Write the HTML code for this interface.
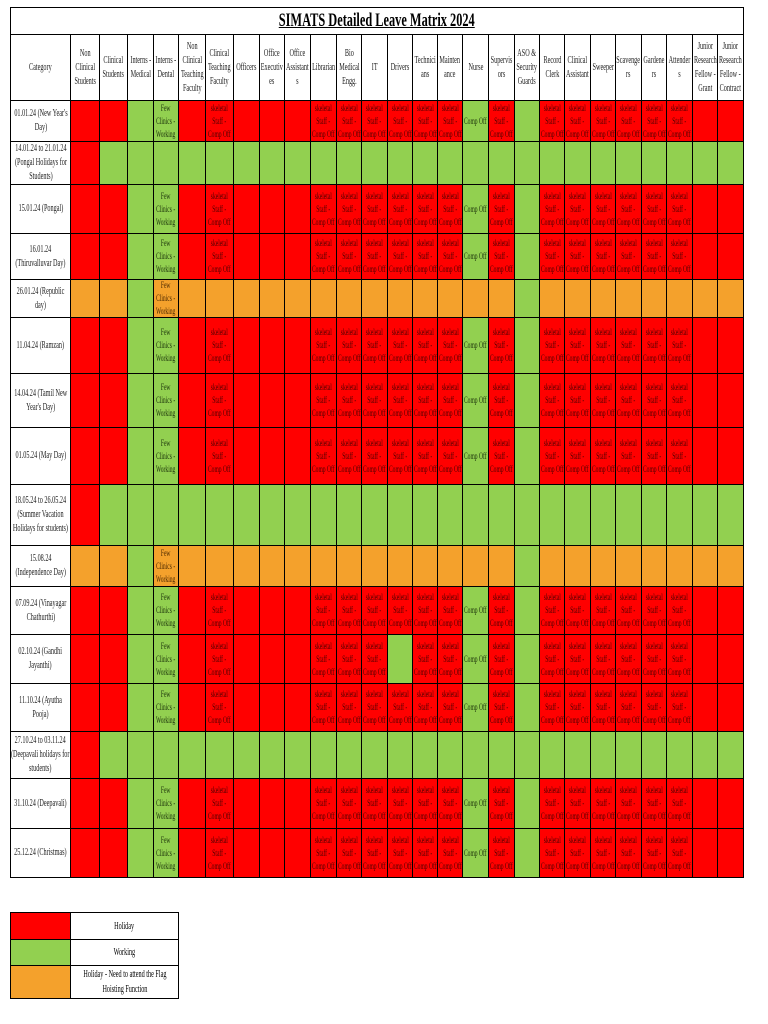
<!DOCTYPE html>
<html><head><meta charset="utf-8">
<style>
html,body{margin:0;padding:0;background:#fff;width:768px;height:1024px;overflow:hidden;font-family:"Liberation Serif",serif;}
#root{position:relative;width:768px;height:1024px;}
.c{position:absolute;box-sizing:border-box;border:1px solid #000;display:flex;align-items:center;justify-content:center;text-align:center;overflow:visible;}
.t{display:inline-block;transform:scaleX(0.62);white-space:nowrap;font-size:9px;line-height:13px;}
.r{background:#ff0000;color:#4a0000;}
.g{background:#92d050;color:#1a300a;}
.o{background:#f4a12c;color:#4a2800;}
.w{background:#fff;color:#222;}
</style></head><body>
<div id="root"></div>
<script>
const colEdges=[10,70,99,127,153,178,205,233,259,284,310,336,361,387,412,437,462,488,514,539,564,590,615,641,666,692,717,743];
const rowEdges=[100,141,184,233,279,317,373,427,484,545,586,634,683,731,778,828,877];
const headers=["Category","Non<br>Clinical<br>Students","Clinical<br>Students","Interns -<br>Medical","Interns -<br>Dental","Non<br>Clinical<br>Teaching<br>Faculty","Clinical<br>Teaching<br>Faculty","Officers","Office<br>Executiv<br>es","Office<br>Assistant<br>s","Librarian","Bio<br>Medical<br>Engg.","IT","Drivers","Technici<br>ans","Mainten<br>ance","Nurse","Supervis<br>ors","ASO &amp;<br>Security<br>Guards","Record<br>Clerk","Clinical<br>Assistant","Sweeper","Scavenge<br>rs","Gardene<br>rs","Attender<br>s","Junior<br>Research<br>Fellow -<br>Grant","Junior<br>Research<br>Fellow -<br>Contract"];
const categories=["01.01.24 (New Year's<br>Day)","14.01.24 to 21.01.24<br>(Pongal Holidays for<br>Students)","15.01.24 (Pongal)","16.01.24<br>(Thiruvalluvar Day)","26.01.24 (Republic<br>day)","11.04.24 (Ramzan)","14.04.24 (Tamil New<br>Year's Day)","01.05.24 (May Day)","18.05.24 to 26.05.24<br>(Summer Vacation<br>Holidays for students)","15.08.24<br>(Independence Day)","07.09.24 (Vinayagar<br>Chathurthi)","02.10.24 (Gandhi<br>Jayanthi)","11.10.24 (Ayutha<br>Pooja)","27.10.24 to 03.11.24<br>(Deepavali holidays for<br>students)","31.10.24 (Deepavali)","25.12.24 (Christmas)"];
const rowTypes=["H","S","H","H","F","H","H","H","S","F","H","G","H","S","H","H"];
const SK="skeletal<br>Staff -<br>Comp Off", FC="Few<br>Clinics -<br>Working";
const patH=[["r",""],["r",""],["g",""],["g",FC],["r",""],["r",SK],["r",""],["r",""],["r",""],["r",SK],["r",SK],["r",SK],["r",SK],["r",SK],["r",SK],["g","Comp Off"],["r",SK],["g",""],["r",SK],["r",SK],["r",SK],["r",SK],["r",SK],["r",SK],["r",""],["r",""]];
const patS=[["r",""]].concat(Array(25).fill(["g",""]));
const patF=[["o",""],["o",""],["g",""],["o",FC],["o",""],["o",""],["o",""],["o",""],["o",""],["o",""],["o",""],["o",""],["o",""],["o",""],["o",""],["o",""],["o",""],["g",""],["o",""],["o",""],["o",""],["o",""],["o",""],["o",""],["o",""],["o",""]];
const patG=patH.map((c,i)=>i===12?["g",""]:c);
const pats={H:patH,S:patS,F:patF,G:patG};
const root=document.getElementById('root');
function cell(x,y,w,h,cls,html,name){
  const d=document.createElement('div');
  d.className='c '+cls;
  d.style.left=x+'px';d.style.top=y+'px';d.style.width=(w+1)+'px';d.style.height=(h+1)+'px';
  if(html){const s=document.createElement('span');s.className='t';s.innerHTML=html;d.appendChild(s);}
  
  
  root.appendChild(d);return d;
}
const title=cell(10,7,733,27,'w','','title-row');
title.innerHTML='<span style="display:inline-block;transform:scaleX(0.65);font-weight:bold;font-size:19px;text-decoration:underline;white-space:nowrap;color:#000">SIMATS Detailed Leave Matrix 2024</span>';
for(let i=0;i<headers.length;i++){
  const hc=cell(colEdges[i],34,colEdges[i+1]-colEdges[i],66,'w',headers[i],'column-header');
  hc.querySelector('.t').style.lineHeight='14px';
  hc.querySelector('.t').style.fontSize='10px';
}
for(let r=0;r<categories.length;r++){
  const y=rowEdges[r],h=rowEdges[r+1]-rowEdges[r];
  const cc=cell(colEdges[0],y,colEdges[1]-colEdges[0],h,'w',categories[r],'category-cell');
  cc.querySelector('.t').style.lineHeight='14px';
  cc.querySelector('.t').style.fontSize='10px';
  const p=pats[rowTypes[r]];
  for(let c=0;c<26;c++){
    cell(colEdges[c+1],y,colEdges[c+2]-colEdges[c+1],h,p[c][0],p[c][1],'matrix-cell');
  }
}
const legendRows=[[912,939,'r','Holiday'],[939,965,'g','Working'],[965,998,'o','Holiday - Need to attend the Flag<br>Hoisting Function']];
for(const L of legendRows){
  cell(10,L[0],60,L[1]-L[0],L[2],'','legend-swatch');
  const t=cell(70,L[0],108,L[1]-L[0],'w',L[3],'legend-label');
  t.querySelector('.t').style.color='#000';
  t.querySelector('.t').style.lineHeight='15px';
  t.querySelector('.t').style.fontSize='10px';
}
</script>
</body></html>
